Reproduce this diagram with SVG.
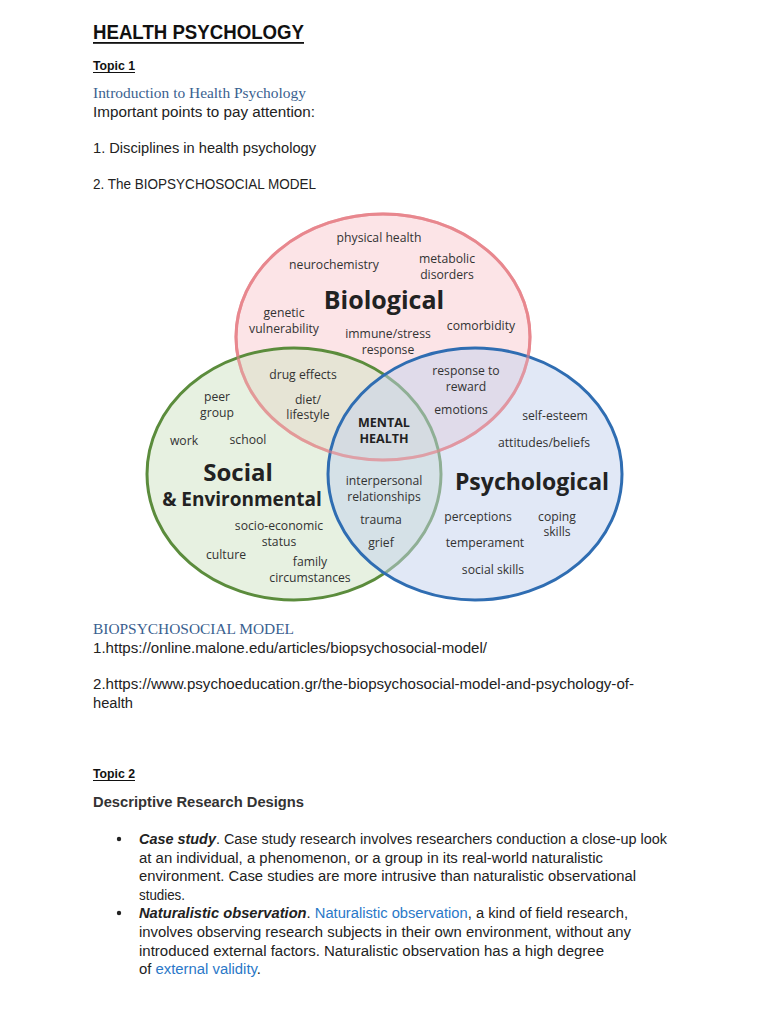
<svg xmlns="http://www.w3.org/2000/svg" width="768" height="1024" viewBox="0 0 768 1024">
<style>
.body{font-family:"Liberation Sans",Arial,sans-serif;font-size:14px;fill:#222}
.hd{font-family:"Liberation Sans",Arial,sans-serif;font-weight:bold;fill:#111}
.ser{font-family:"Liberation Serif","Times New Roman",serif;font-size:14px;fill:#3a5f8f}
.lbl{font-family:"Open Sans","Noto Sans",sans-serif;font-size:12.2px;fill:#333;text-anchor:middle}
.big{font-family:"Open Sans","Noto Sans",sans-serif;font-weight:bold;fill:#222;text-anchor:middle}
.link{fill:#2a78c8}
</style>
<rect width="768" height="1024" fill="#ffffff"/>
<g id="header">
<text class="hd" x="93" y="39" font-size="21" textLength="211" lengthAdjust="spacingAndGlyphs">HEALTH PSYCHOLOGY</text>
<rect x="93" y="42" width="211" height="1.8" fill="#111"/>
<text class="hd" x="93" y="70" font-size="12" textLength="42" lengthAdjust="spacingAndGlyphs">Topic 1</text>
<rect x="93" y="72" width="42" height="1" fill="#111"/>
<text class="ser" x="93" y="98" textLength="213" lengthAdjust="spacingAndGlyphs">Introduction to Health Psychology</text>
<text class="body" x="93" y="117" textLength="222" lengthAdjust="spacingAndGlyphs">Important points to pay attention:</text>
<text class="body" x="93" y="153" textLength="223" lengthAdjust="spacingAndGlyphs">1. Disciplines in health psychology</text>
<text class="body" x="93" y="189" textLength="223" lengthAdjust="spacingAndGlyphs">2. The BIOPSYCHOSOCIAL MODEL</text>
</g>
<g id="venn">
<g id="circle-biological"><ellipse cx="383" cy="337" rx="147" ry="123" fill="#f9c9cf" fill-opacity="0.5" stroke="#e8878e" stroke-width="3"/></g>
<g id="circle-social"><ellipse cx="294" cy="474" rx="147" ry="126" fill="#cfe3c4" fill-opacity="0.5" stroke="#5b8c3c" stroke-width="3"/></g>
<g id="circle-psychological"><ellipse cx="475" cy="474" rx="147" ry="126" fill="#c3d1ee" fill-opacity="0.5" stroke="#2f6db2" stroke-width="3"/></g>
<ellipse cx="383" cy="337" rx="147" ry="123" fill="none" stroke="#e8878e" stroke-width="3" stroke-opacity="0.6"/>
<g id="labels-biological">
<text class="lbl" x="379" y="242">physical health</text>
<text class="lbl" x="334" y="269">neurochemistry</text>
<text class="lbl" x="447" y="263">metabolic</text>
<text class="lbl" x="447" y="279">disorders</text>
<text class="big" x="384" y="309" font-size="25">Biological</text>
<text class="lbl" x="284" y="317">genetic</text>
<text class="lbl" x="284" y="333">vulnerability</text>
<text class="lbl" x="388" y="338">immune/stress</text>
<text class="lbl" x="388" y="354">response</text>
<text class="lbl" x="481" y="330">comorbidity</text>
</g>
<g id="labels-overlaps">
<text class="lbl" x="303" y="379">drug effects</text>
<text class="lbl" x="308" y="404">diet/</text>
<text class="lbl" x="308" y="419">lifestyle</text>
<text class="lbl" x="466" y="375">response to</text>
<text class="lbl" x="466" y="391">reward</text>
<text class="lbl" x="461" y="414">emotions</text>
<text class="big" x="384" y="427" font-size="12.5">MENTAL</text>
<text class="big" x="384" y="443" font-size="12.5">HEALTH</text>
<text class="lbl" x="384" y="485">interpersonal</text>
<text class="lbl" x="384" y="501">relationships</text>
<text class="lbl" x="381" y="524">trauma</text>
<text class="lbl" x="381" y="547">grief</text>
</g>
<g id="labels-social">
<text class="lbl" x="217" y="401">peer</text>
<text class="lbl" x="217" y="417">group</text>
<text class="lbl" x="184" y="445">work</text>
<text class="lbl" x="248" y="444">school</text>
<text class="big" x="238" y="481" font-size="24">Social</text>
<text class="big" x="242" y="506" font-size="19">&amp; Environmental</text>
<text class="lbl" x="279" y="530">socio-economic</text>
<text class="lbl" x="279" y="546">status</text>
<text class="lbl" x="226" y="559">culture</text>
<text class="lbl" x="310" y="566">family</text>
<text class="lbl" x="310" y="582">circumstances</text>
</g>
<g id="labels-psychological">
<text class="lbl" x="555" y="420">self-esteem</text>
<text class="lbl" x="544" y="447">attitudes/beliefs</text>
<text class="big" x="532" y="490" font-size="23">Psychological</text>
<text class="lbl" x="478" y="521">perceptions</text>
<text class="lbl" x="557" y="521">coping</text>
<text class="lbl" x="557" y="536">skills</text>
<text class="lbl" x="485" y="547">temperament</text>
<text class="lbl" x="493" y="574">social skills</text>
</g>
</g>
<g id="references">
<text class="ser" x="93" y="634" textLength="201" lengthAdjust="spacingAndGlyphs">BIOPSYCHOSOCIAL MODEL</text>
<text class="body" x="93" y="653" textLength="394" lengthAdjust="spacingAndGlyphs">1.https://online.malone.edu/articles/biopsychosocial-model/</text>
<text class="body" x="93" y="689" textLength="541" lengthAdjust="spacingAndGlyphs">2.https://www.psychoeducation.gr/the-biopsychosocial-model-and-psychology-of-</text>
<text class="body" x="93" y="708" textLength="40" lengthAdjust="spacingAndGlyphs">health</text>
</g>
<g id="topic2">
<text class="hd" x="93" y="778" font-size="12" textLength="42" lengthAdjust="spacingAndGlyphs">Topic 2</text>
<rect x="93" y="780" width="42" height="1" fill="#111"/>
<text class="hd" x="93" y="807" font-size="14" textLength="211" lengthAdjust="spacingAndGlyphs" style="fill:#333">Descriptive Research Designs</text>
<circle cx="119" cy="839" r="2.2" fill="#222"/>
<circle cx="119" cy="913" r="2.2" fill="#222"/>
<text class="body" x="139" y="844" textLength="528" lengthAdjust="spacingAndGlyphs"><tspan font-weight="bold" font-style="italic">Case study</tspan>. Case study research involves researchers conduction a close-up look</text>
<text class="body" x="139" y="863" textLength="464" lengthAdjust="spacingAndGlyphs">at an individual, a phenomenon, or a group in its real-world naturalistic</text>
<text class="body" x="139" y="881" textLength="497" lengthAdjust="spacingAndGlyphs">environment. Case studies are more intrusive than naturalistic observational</text>
<text class="body" x="139" y="900" textLength="46" lengthAdjust="spacingAndGlyphs">studies.</text>
<text class="body" x="139" y="918" textLength="489" lengthAdjust="spacingAndGlyphs"><tspan font-weight="bold" font-style="italic">Naturalistic observation</tspan>. <tspan class="link">Naturalistic observation</tspan>, a kind of field research,</text>
<text class="body" x="139" y="937" textLength="492" lengthAdjust="spacingAndGlyphs">involves observing research subjects in their own environment, without any</text>
<text class="body" x="139" y="956" textLength="465" lengthAdjust="spacingAndGlyphs">introduced external factors.  Naturalistic observation has a high degree</text>
<text class="body" x="139" y="974" textLength="122" lengthAdjust="spacingAndGlyphs">of <tspan class="link">external validity</tspan>.</text>
</g>
</svg>
